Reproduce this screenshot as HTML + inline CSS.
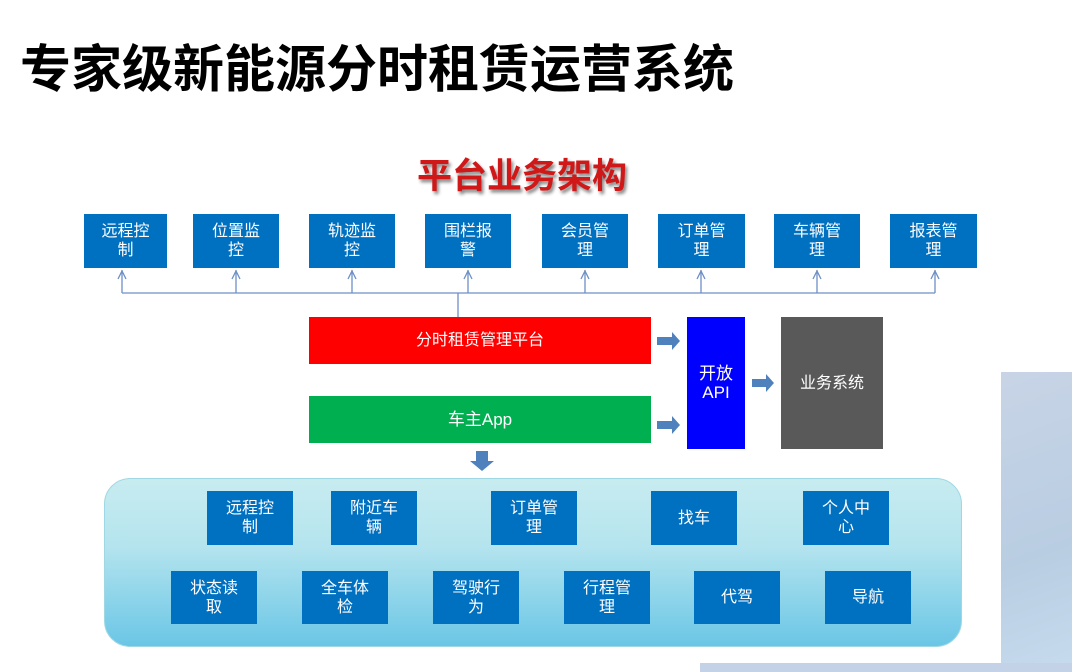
<!DOCTYPE html>
<html><head><meta charset="utf-8"><style>
body{margin:0;width:1072px;height:672px;position:relative;overflow:hidden;background:#fff;font-family:"Liberation Sans","Noto Sans CJK SC",sans-serif}
.a{position:absolute;box-sizing:border-box;display:flex;align-items:center;justify-content:center;text-align:center;color:#fff;line-height:19px}
.b{background:#0070c0;font-size:16px}
</style></head><body>
<div style="position:absolute;left:1001px;top:372px;width:71px;height:300px;background:linear-gradient(160deg,#c8d4e6,#b9cde2 60%,#c6dbee)"></div>
<div style="position:absolute;left:700px;top:663px;width:372px;height:9px;background:#c3d2e6"></div>
<div style="position:absolute;left:20px;top:28px;font-size:51px;font-weight:bold;color:#000;white-space:nowrap">专家级新能源分时租赁运营系统</div>
<div style="position:absolute;left:417px;top:148px;font-size:35px;font-weight:bold;color:#d01818;text-shadow:2px 3px 3px #888;white-space:nowrap">平台业务架构</div>
<svg style="position:absolute;left:0;top:0" width="1072" height="672">
<g stroke="#6d8fc6" stroke-width="1.3" fill="none">
<line x1="122" y1="293" x2="935" y2="293"/>
<line x1="458" y1="293" x2="458" y2="317"/>
<path d="M122 293V270M236 293V270M352 293V270M468 293V270M585 293V270M701 293V270M817 293V270M935 293V270"/>
<path d="M118 279l4-8 4 8M232 279l4-8 4 8M348 279l4-8 4 8M464 279l4-8 4 8M581 279l4-8 4 8M697 279l4-8 4 8M813 279l4-8 4 8M931 279l4-8 4 8"/>
</g>
<g fill="#4f81bd">
<path d="M657 337h15v-5l8 9-8 9v-5h-15z"/>
<path d="M657 421h15v-5l8 9-8 9v-5h-15z"/>
<path d="M752 379h14v-5l8 9-8 9v-5h-14z"/>
<path d="M476 451h12v10h6l-12 10-12-10h6z"/>
</g>
</svg>
<div class="a b" style="left:84px;top:214px;width:83px;height:54px">远程控<br>制</div>
<div class="a b" style="left:193px;top:214px;width:86px;height:54px">位置监<br>控</div>
<div class="a b" style="left:309px;top:214px;width:86px;height:54px">轨迹监<br>控</div>
<div class="a b" style="left:425px;top:214px;width:86px;height:54px">围栏报<br>警</div>
<div class="a b" style="left:542px;top:214px;width:86px;height:54px">会员管<br>理</div>
<div class="a b" style="left:658px;top:214px;width:87px;height:54px">订单管<br>理</div>
<div class="a b" style="left:774px;top:214px;width:86px;height:54px">车辆管<br>理</div>
<div class="a b" style="left:890px;top:214px;width:87px;height:54px">报表管<br>理</div>
<div class="a" style="left:309px;top:317px;width:342px;height:47px;background:#ff0000;font-size:16px">分时租赁管理平台</div>
<div class="a" style="left:309px;top:396px;width:342px;height:47px;background:#00b050;font-size:17px">车主App</div>
<div class="a" style="left:687px;top:317px;width:58px;height:132px;background:#0000ff;font-size:17px">开放<br>API</div>
<div class="a" style="left:781px;top:317px;width:102px;height:132px;background:#595959;font-size:16px">业务系统</div>
<div style="position:absolute;left:104px;top:478px;width:858px;height:169px;border-radius:26px;background:linear-gradient(#c7ecf0,#b5e4ee 40%,#6ac6e6);border:1px solid #9fd8e4;box-sizing:border-box"></div>
<div class="a b" style="left:207px;top:491px;width:86px;height:54px">远程控<br>制</div>
<div class="a b" style="left:331px;top:491px;width:86px;height:54px">附近车<br>辆</div>
<div class="a b" style="left:491px;top:491px;width:86px;height:54px">订单管<br>理</div>
<div class="a b" style="left:651px;top:491px;width:86px;height:54px">找车</div>
<div class="a b" style="left:803px;top:491px;width:86px;height:54px">个人中<br>心</div>
<div class="a b" style="left:171px;top:571px;width:86px;height:53px">状态读<br>取</div>
<div class="a b" style="left:302px;top:571px;width:86px;height:53px">全车体<br>检</div>
<div class="a b" style="left:433px;top:571px;width:86px;height:53px">驾驶行<br>为</div>
<div class="a b" style="left:564px;top:571px;width:86px;height:53px">行程管<br>理</div>
<div class="a b" style="left:694px;top:571px;width:86px;height:53px">代驾</div>
<div class="a b" style="left:825px;top:571px;width:86px;height:53px">导航</div>
</body></html>
